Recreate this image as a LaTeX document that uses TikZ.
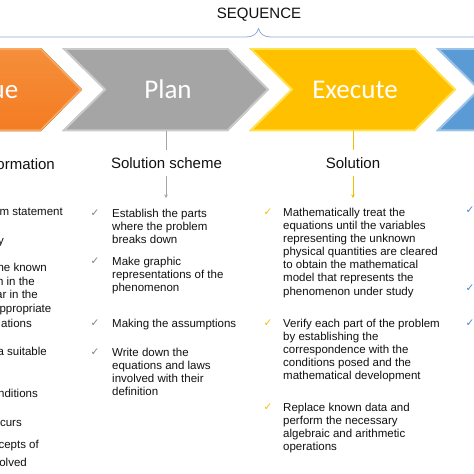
\documentclass[tikz,border=0pt]{standalone}
\usepackage{fontspec}
\setmainfont{Liberation Sans}
\newfontfamily\chevfont{Carlito}
\newfontfamily\symfont{DejaVu Sans}
\usetikzlibrary{arrows.meta}
\definecolor{orangeF}{HTML}{F37A1F}
\definecolor{orangeT}{HTML}{F6903E}
\definecolor{orangeL}{HTML}{F9A860}
\definecolor{grayF}{HTML}{A5A5A5}
\definecolor{grayL}{HTML}{CACACA}
\definecolor{yellowF}{HTML}{FFC000}
\definecolor{yellowL}{HTML}{FFE24A}
\definecolor{blueF}{HTML}{5B9BD5}
\definecolor{blueL}{HTML}{9CC3E8}
\definecolor{bracecol}{HTML}{8EAAD6}
\definecolor{planchk}{HTML}{808080}
\definecolor{execchk}{HTML}{F2C000}
\definecolor{bluechk}{HTML}{4A86C8}
\definecolor{txt}{HTML}{111111}
\newcommand{\mychev}[3]{%
  \begin{scope}
    \clip (#1,48) -- ({#1+166},48) -- ({#1+207},89.5) -- ({#1+166},131) -- (#1,131) -- ({#1+42},89.5) -- cycle;
    \fill[#2] ({#1-5},40) rectangle ({#1+215},140);
    \draw[#3, line width=3.5pt, line join=miter] (#1,48) -- ({#1+166},48) -- ({#1+207},89.5) -- ({#1+166},131) -- (#1,131) -- ({#1+42},89.5) -- cycle;
  \end{scope}}
\tikzset{
  hdr/.style={font=\fontsize{15}{18}\selectfont, text=txt, text height=10.7pt, text depth=0pt, inner sep=7pt},
  item/.style={font=\fontsize{11.5}{13.1}\selectfont, text=txt, align=left, inner sep=0pt, anchor=north west},
  frag/.style={font=\fontsize{11.5}{13.1}\selectfont, text=txt, inner sep=0pt, anchor=base east},
  chk/.style={font=\symfont\fontsize{10.5}{12}\selectfont, inner sep=0pt},
  chevlabel/.style={font=\chevfont\fontsize{27}{30}\selectfont, text=white, inner sep=0pt, anchor=base},
  planline/.style={draw=grayF, line width=0.8pt},
  execline/.style={draw=execchk, line width=0.8pt},
  tip/.style={-{Stealth[length=3.5pt,width=3.5pt]}}
}
\begin{document}
\begin{tikzpicture}[x=1pt,y=-1pt]
\useasboundingbox (0,0) rectangle (474,474);
\fill[white] (0,0) rectangle (474,474);
\clip (0,0) rectangle (474,474);

% sequence label and brace
\node[font=\fontsize{15}{18}\selectfont, text=txt, inner sep=0pt] (seq) at (259,15) {SEQUENCE};
\draw[bracecol, line width=0.8pt] (0,37) -- (246,37) .. controls (253,37) and (257,34) .. (258.5,28.5) .. controls (260,34) and (264,37) .. (271,37) -- (474,37);

% chevrons
\mychev{-125}{top color=orangeT, bottom color=orangeF}{orangeL}
\mychev{62}{grayF}{grayL}
\mychev{249}{yellowF}{yellowL}
\mychev{436}{blueF}{blueL}

\node[chevlabel, anchor=base east] (lab0) at (18.5,98.3) {ue};
\node[chevlabel] (lab1) at (168,98.3) {Plan};
\node[chevlabel] (lab2) at (355,98.3) {Execute};

% left column (cut off)
\node[font=\fontsize{15}{18}\selectfont, text=txt, inner sep=0pt, anchor=base east] (h0) at (55,169.4) {ormation};
\node[frag] (f1) at (63,215.2) {m statement};
\node[frag] (f2) at (4,244.2) {y};
\node[frag] (f3) at (47,271.2) {ne known};
\node[frag] (f4) at (35,285.2) {n in the};
\node[frag] (f5) at (38,298.2) {ar in the};
\node[frag] (f6) at (51.5,312.2) {ppropriate};
\node[frag] (f7) at (32,327.2) {ations};
\node[frag] (f8) at (47,355.2) {a suitable};
\node[frag] (f9) at (38,397.2) {nditions};
\node[frag] (f10) at (22,426.2) {curs};
\node[frag] (f11) at (39,448.2) {cepts of};
\node[frag] (f12) at (27,466.2) {olved};

% plan column
\coordinate (planbot) at (166,131);
\node[hdr] (planhd) at (166.5,163) {Solution scheme};
\coordinate (planarr) at (166,198);
\draw[planline] (planbot) -- (planbot |- planhd.north);
\draw[planline, tip] (planbot |- planhd.south) -- (planarr);

\node[item] (p1) at (112,208.9) {Establish the parts\\where the problem\\breaks down};
\node[item] (p2) at (112,256.9) {Make graphic\\representations of the\\phenomenon};
\node[item] (p3) at (112,318.9) {Making the assumptions};
\node[item] (p4) at (112,347.9) {Write down the\\equations and laws\\involved with their\\definition};
\node[chk, text=planchk] (pc1) at (95,213) {✓};
\node[chk, text=planchk] (pc2) at (95,261) {✓};
\node[chk, text=planchk] (pc3) at (95,323) {✓};
\node[chk, text=planchk] (pc4) at (95,352) {✓};

% execute column
\coordinate (execbot) at (353,131);
\node[hdr] (exechd) at (353,163) {Solution};
\coordinate (execarr) at (353,198);
\draw[execline] (execbot) -- (execbot |- exechd.north);
\draw[execline, tip] (execbot |- exechd.south) -- (execarr);

\node[item] (e1) at (283,207.9) {Mathematically treat the\\equations until the variables\\representing the unknown\\physical quantities are cleared\\to obtain the mathematical\\model that represents the\\phenomenon under study};
\node[item] (e2) at (283,318.9) {Verify each part of the problem\\by establishing the\\correspondence with the\\conditions posed and the\\mathematical development};
\node[item] (e3) at (283,402.9) {Replace known data and\\perform the necessary\\algebraic and arithmetic\\operations};
\node[chk, text=execchk] (ec1) at (268,212) {✓};
\node[chk, text=execchk] (ec2) at (268,323) {✓};
\node[chk, text=execchk] (ec3) at (268,407) {✓};

% right column (cut off)
\node[chk, text=bluechk] (bc1) at (470,210) {✓};
\node[chk, text=bluechk] (bc2) at (470,288) {✓};
\node[chk, text=bluechk] (bc3) at (470,323) {✓};
\end{tikzpicture}
\end{document}
